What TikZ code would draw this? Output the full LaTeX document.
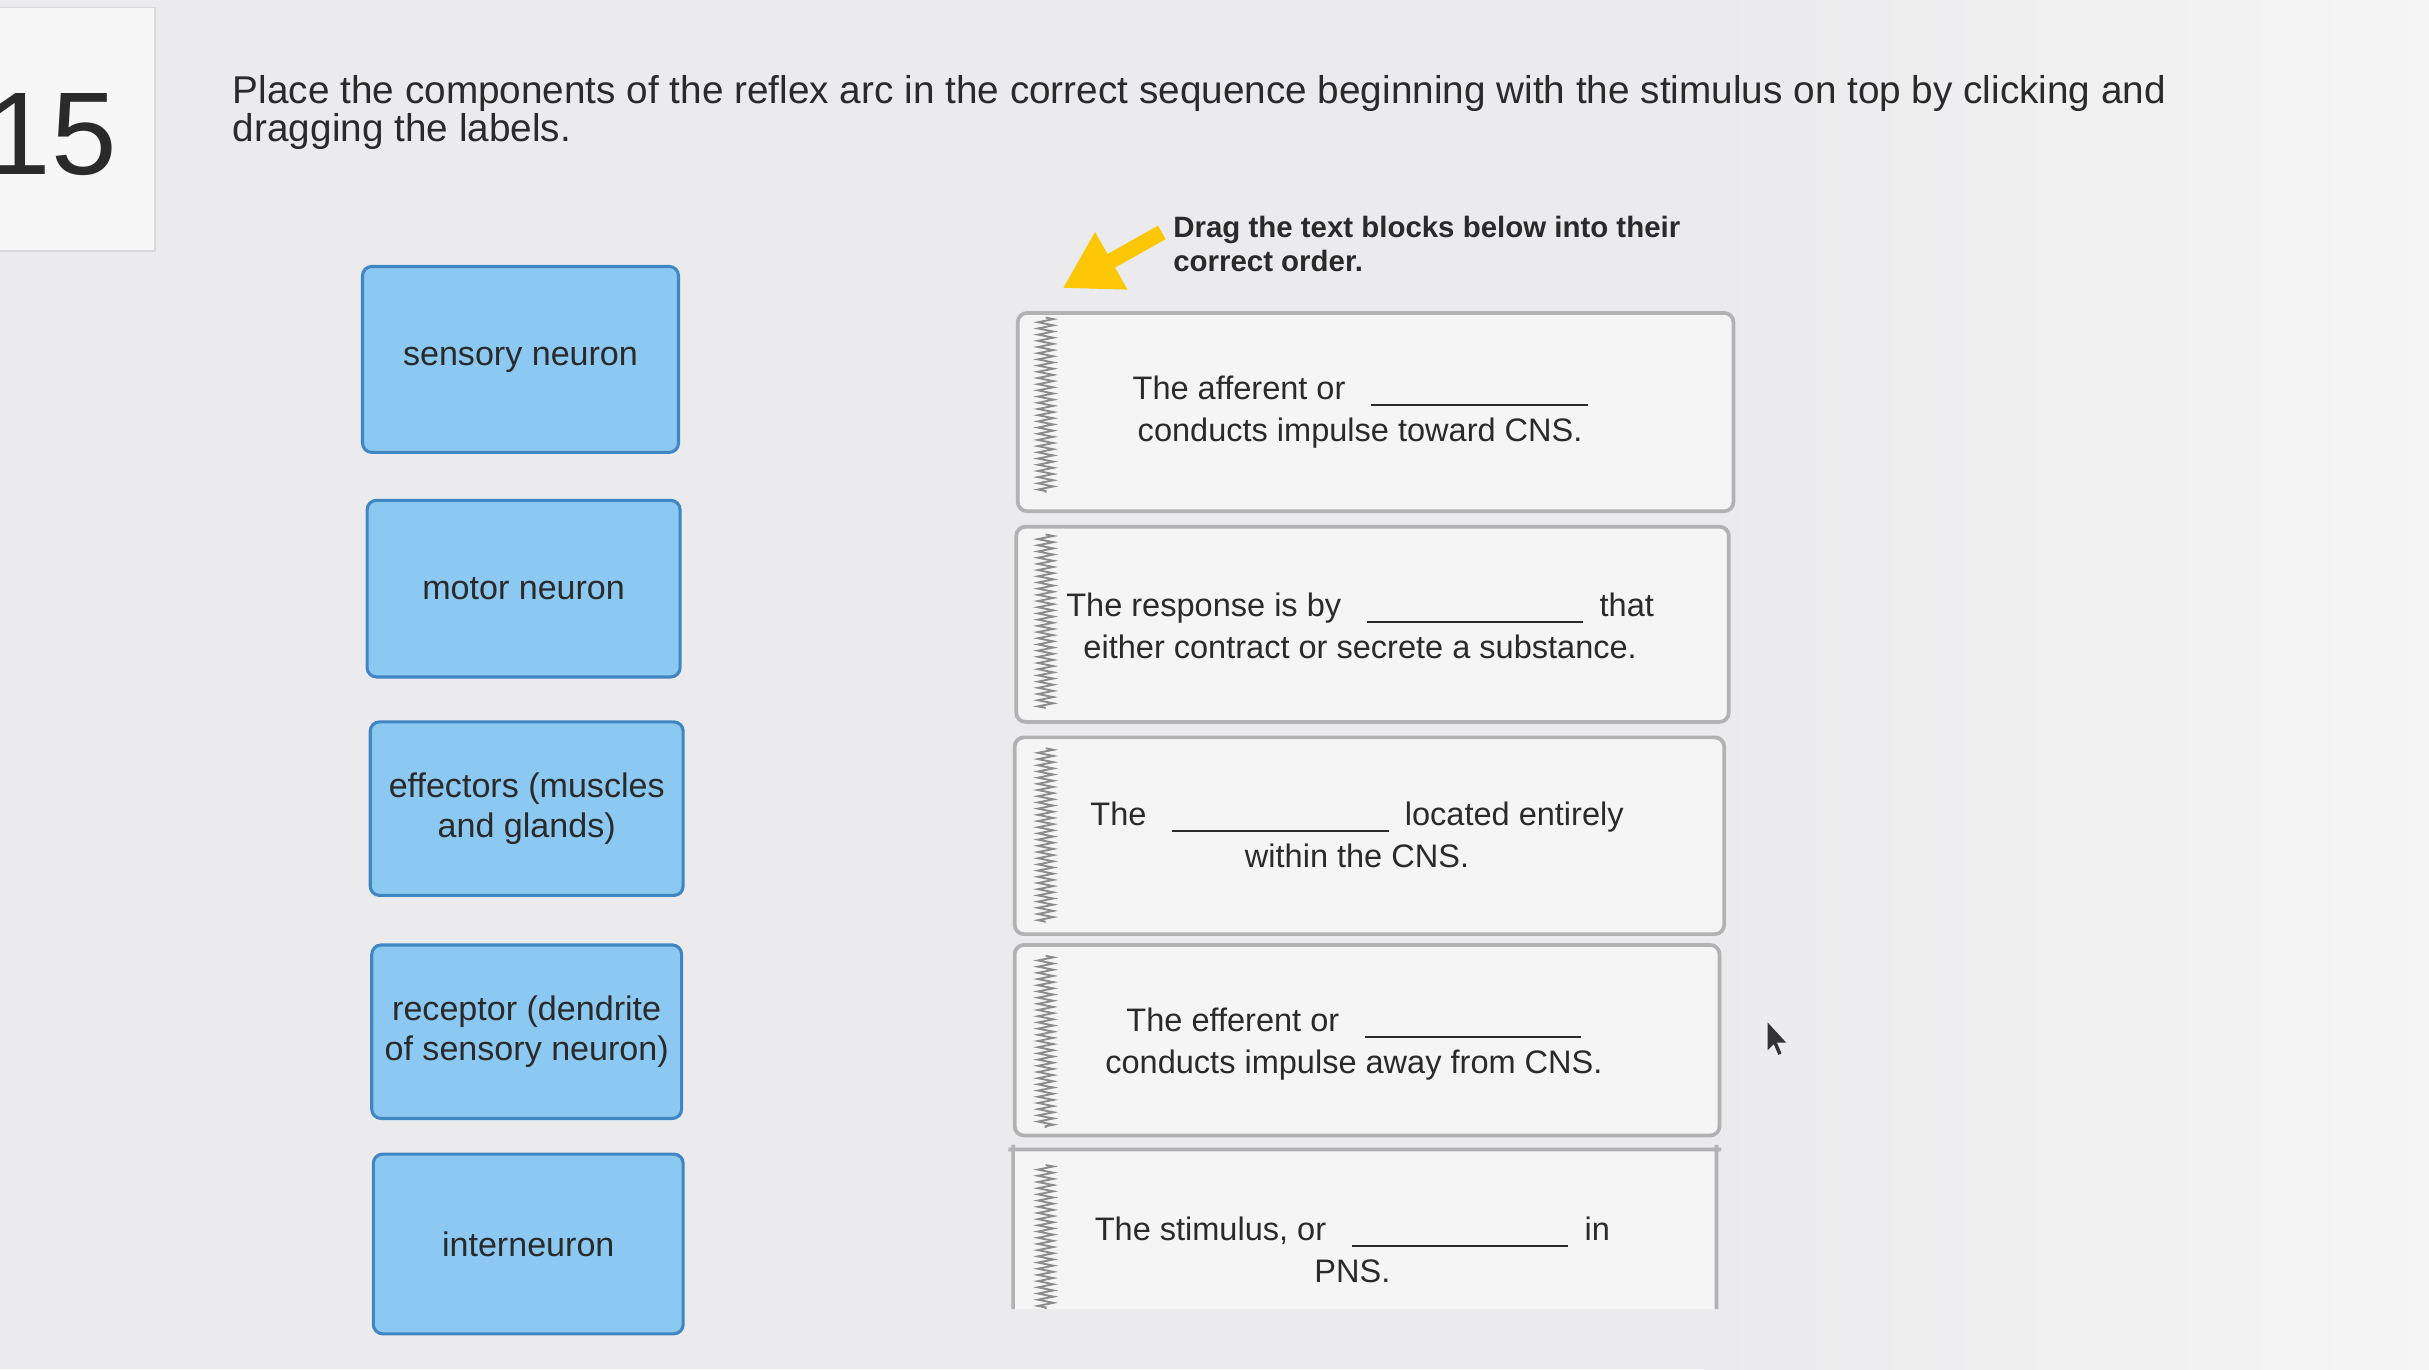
\documentclass[tikz,border=0pt]{standalone}
\usepackage{fontspec}
\setmainfont{Liberation Sans}
\usetikzlibrary{decorations.pathmorphing,arrows.meta}
\definecolor{bg}{HTML}{EBEBED}
\definecolor{lbl}{HTML}{8CC9F2}
\definecolor{lbd}{HTML}{3F86C2}
\definecolor{txt}{HTML}{2A2A2A}
\definecolor{slot}{HTML}{F5F5F6}
\tikzset{
 lab/.style={draw=lbd,line width=1pt,fill=lbl,rounded corners=3pt,text=txt,font=\fontsize{11}{13}\selectfont,align=center},
 slotbox/.style={draw=black!30,line width=1.2pt,fill=slot,rounded corners=3pt},
 stxt/.style={text=txt,font=\fontsize{10.5}{13.5}\selectfont,align=center},
 grip/.style={draw=black!45,line width=0.6pt,decorate,decoration={zigzag,segment length=2pt,amplitude=2.5pt}}
}
\newcommand{\blank}{\rule[-2pt]{70pt}{0.6pt}}
\begin{document}
\begin{tikzpicture}[x=0.5pt,y=-0.5pt]
\useasboundingbox (0,0) rectangle (1568,884);
\fill[bg] (0,0) rectangle (1101,884);
\shade[left color=bg,right color=black!4] (1100,0) rectangle (1568,884);
\fill[black!3] (0,5) rectangle (100,162);
\draw[black!15] (0,5) -- (100,5) -- (100,162) -- (0,162);
\node[text=txt,font=\fontsize{38}{38}\selectfont,anchor=center] (num) at (33,87) {15};
\node[text=txt,font=\fontsize{12.5}{13.5}\selectfont,anchor=north west,align=left,inner sep=0] (title) at (150,48) {Place the components of the reflex arc in the correct sequence beginning with the stimulus on top by clicking and\\[-1pt]dragging the labels.};
% labels
\node[lab,minimum width=102pt,minimum height=60pt] (l1) at (336,232) {sensory neuron};
\node[lab,minimum width=101pt,minimum height=57pt] (l2) at (338,380) {motor neuron};
\node[lab,minimum width=101pt,minimum height=56pt] (l3) at (340,522) {effectors (muscles\\and glands)};
\node[lab,minimum width=100pt,minimum height=56pt] (l4) at (340,666) {receptor (dendrite\\of sensory neuron)};
\node[lab,minimum width=100pt,minimum height=58pt] (l5) at (341,803) {interneuron};
% instruction
\coordinate (at) at (750,150);
\coordinate (ah) at (686,186);
\draw[draw=yellow!60!orange,line width=5pt,-{Triangle[length=18pt,width=20pt]}] (at) -- (ah);
\node[text=txt,font=\bfseries\fontsize{9.5}{11}\selectfont,anchor=north west,align=left,inner sep=0] (inst) at (757,139) {Drag the text blocks below into their\\correct order.};
% slots
\draw[slotbox] (657,202) rectangle (1119,330);
\draw[slotbox] (656,340) rectangle (1116,466);
\draw[slotbox] (655,476) rectangle (1113,603);
\draw[slotbox] (655,610) rectangle (1110,733);
\draw[slotbox] (654,845) -- (654,745) arc(180:270:3) -- (1105,742) arc(270:360:3) -- (1108,845);
\foreach \a/\b in {205/318,345/457,483/595,617/728,752/845}{
 \draw[grip] (675,\a) -- (675,\b);}
\node[stxt] (s1) at (878,266) {The afferent or \enspace\blank\\conducts impulse toward CNS.};
\node[stxt] (s2) at (878,404) {The response is by \enspace\blank\enspace that\\either contract or secrete a substance.};
\node[stxt] (s3) at (876,539) {The \enspace\blank\enspace located entirely\\within the CNS.};
\node[stxt] (s4) at (874,674) {The efferent or \enspace\blank\\conducts impulse away from CNS.};
\node[stxt] (s5) at (873,807) {The stimulus, or \enspace\blank\enspace in\\PNS.};
% cursor
\fill[black!80] (1141,660) -- (1141,678) -- (1145,674) -- (1148,681) -- (1150,680) -- (1147,673) -- (1153,673) -- cycle;
\end{tikzpicture}
\end{document}
